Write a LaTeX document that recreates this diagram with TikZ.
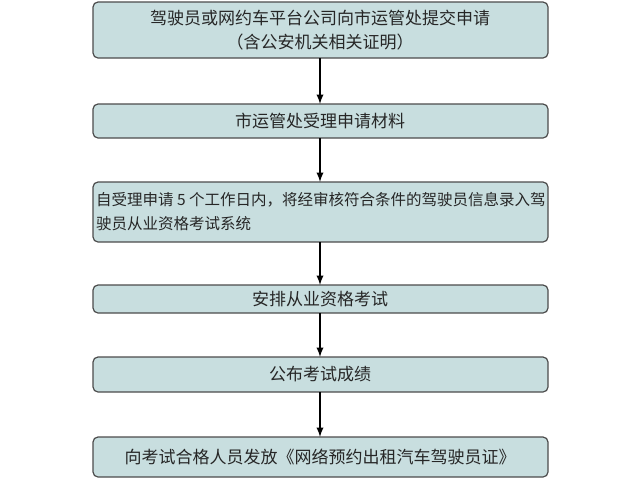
\documentclass[tikz,border=0pt]{standalone}
\usepackage{fontspec}
\newfontfamily\cjk{Noto Sans CJK SC}
\begin{document}
\begin{tikzpicture}[x=1pt,y=-1pt,
  boxst/.style={draw=black!70, line width=1.2pt, fill={rgb,255:red,200;green,222;blue,223}, rounded corners=5pt},
  lbl/.style={font=\cjk\fontsize{17}{24}\selectfont, text=black!85, align=center},
  arr/.style={-latex, line width=2.2pt}]
\useasboundingbox (0,0) rectangle (640,488);
\draw[boxst] (93,2) rectangle (548,58);
\draw[boxst] (93,104) rectangle (548,138);
\draw[boxst] (93,182) rectangle (548,242);
\draw[boxst] (93,285) rectangle (548,313);
\draw[boxst] (93,357) rectangle (548,392);
\draw[boxst] (93,437) rectangle (548,477);
\node[lbl] (b1) at (320,30) {驾驶员或网约车平台公司向市运管处提交申请\\（含公安机关相关证明）};
\node[lbl] (b2) at (320,121) {市运管处受理申请材料};
\node[lbl, font=\cjk\fontsize{15.5}{24}\selectfont, align=left, anchor=west, inner sep=0pt] (b3) at (96,212) {自受理申请 5 个工作日内，将经审核符合条件的驾驶员信息录入驾\\驶员从业资格考试系统};
\node[lbl] (b4) at (320,299) {安排从业资格考试};
\node[lbl] (b5) at (320,374.5) {公布考试成绩};
\node[lbl] (b6) at (320,457) {向考试合格人员发放《网络预约出租汽车驾驶员证》};
\coordinate (a1) at (320,58); \coordinate (e1) at (320,104);
\coordinate (a2) at (320,138); \coordinate (e2) at (320,182);
\coordinate (a3) at (320,242); \coordinate (e3) at (320,285);
\coordinate (a4) at (320,313); \coordinate (e4) at (320,357);
\coordinate (a5) at (320,392); \coordinate (e5) at (320,437);
\foreach \i in {1,...,5} \draw[arr] (a\i) -- (e\i);
\end{tikzpicture}
\end{document}
